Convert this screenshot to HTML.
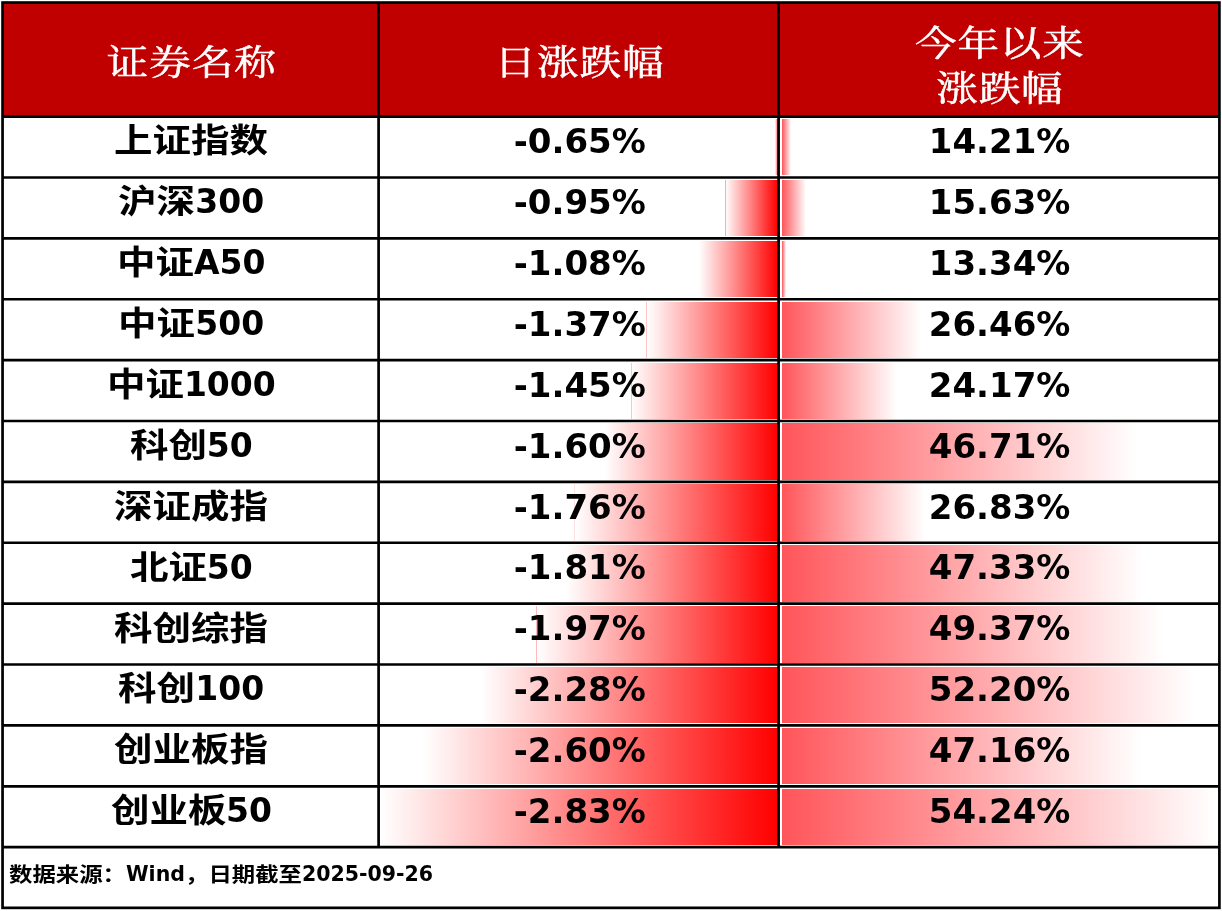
<!DOCTYPE html>
<html lang="zh-CN">
<head>
<meta charset="utf-8">
<title>指数涨跌幅</title>
<style>
html,body{margin:0;padding:0;background:#fff;}
body{width:1222px;height:911px;position:relative;overflow:hidden;font-family:"DejaVu Sans","Liberation Sans","Noto Sans CJK SC",sans-serif;}
.c{display:inline-block;height:40px;vertical-align:top;text-align:left;}
.c i{font-style:normal;display:inline-block;font-size:32.5px;transform:scaleX(1.185);transform-origin:0 50%;position:relative;top:0px;}
.hd{position:absolute;background:#c00000;}
.bar{position:absolute;}
.t{position:absolute;white-space:nowrap;text-align:center;color:#000;font-weight:bold;font-size:34px;line-height:40px;height:40px;transform:scaleX(1.0);transform-origin:50% 50%;}
.h{position:absolute;white-space:nowrap;text-align:center;color:#fff;font-family:"Liberation Serif","Noto Serif CJK SC",serif;font-weight:400;-webkit-text-stroke:0.55px #fff;font-size:35.2px;line-height:44px;height:44px;letter-spacing:0.8px;text-indent:0.8px;transform:scaleX(1.18);transform-origin:50% 50%;}
.f .c{height:30px;}
.f .c i{font-size:20px;transform:scaleX(1.17);top:0.6px;}
.f{position:absolute;white-space:nowrap;color:#000;font-weight:bold;font-size:20.5px;line-height:30px;height:30px;left:9px;transform:scaleX(1.0);transform-origin:0 50%;}
svg{position:absolute;left:0;top:0;}
</style>
</head>
<body>
<div class="hd" style="left:2px;top:2px;width:1218px;height:114.60px"></div>
<div class="bar" style="left:774.60px;top:119.00px;width:3.10px;height:56.48px;background:linear-gradient(to left,#ff7070,#ff7070 0.6px,#ffffff)"></div>
<div class="bar" style="left:782px;top:119.00px;width:9.23px;height:56.48px;background:linear-gradient(to right,#ff555a,#ffffff)"></div>
<div class="bar" style="left:725.00px;top:179.88px;width:52.70px;height:56.48px;background:linear-gradient(to left,#ff0000,#ff0000 0.6px,#ffffff)"></div>
<div class="bar" style="left:724.50px;top:179.88px;width:1px;height:56.48px;background:rgba(255,60,60,0.42)"></div>
<div class="bar" style="left:782px;top:179.88px;width:24.30px;height:56.48px;background:linear-gradient(to right,#ff555a,#ffffff)"></div>
<div class="bar" style="left:698.99px;top:240.76px;width:78.71px;height:56.48px;background:linear-gradient(to left,#ff0000,#ff0000 0.6px,#ffffff)"></div>
<div class="bar" style="left:782px;top:240.76px;width:4.20px;height:56.48px;background:linear-gradient(to right,#ff555a,#ffffff)"></div>
<div class="bar" style="left:646.80px;top:301.64px;width:130.90px;height:56.48px;background:linear-gradient(to left,#ff0000,#ff0000 0.6px,#ffffff)"></div>
<div class="bar" style="left:646.30px;top:301.64px;width:1px;height:56.48px;background:rgba(255,60,60,0.3)"></div>
<div class="bar" style="left:782px;top:301.64px;width:139.22px;height:56.48px;background:linear-gradient(to right,#ff555a,#ffffff)"></div>
<div class="bar" style="left:631.40px;top:362.52px;width:146.30px;height:56.48px;background:linear-gradient(to left,#ff0000,#ff0000 0.6px,#ffffff)"></div>
<div class="bar" style="left:630.90px;top:362.52px;width:1px;height:56.48px;background:rgba(255,60,60,0.3)"></div>
<div class="bar" style="left:782px;top:362.52px;width:114.92px;height:56.48px;background:linear-gradient(to right,#ff555a,#ffffff)"></div>
<div class="bar" style="left:604.53px;top:423.40px;width:173.17px;height:56.48px;background:linear-gradient(to left,#ff0000,#ff0000 0.6px,#ffffff)"></div>
<div class="bar" style="left:782px;top:423.40px;width:354.10px;height:56.48px;background:linear-gradient(to right,#ff555a,#ffffff)"></div>
<div class="bar" style="left:574.80px;top:484.28px;width:202.90px;height:56.48px;background:linear-gradient(to left,#ff0000,#ff0000 0.6px,#ffffff)"></div>
<div class="bar" style="left:574.30px;top:484.28px;width:1px;height:56.48px;background:rgba(255,60,60,0.15)"></div>
<div class="bar" style="left:782px;top:484.28px;width:143.15px;height:56.48px;background:linear-gradient(to right,#ff555a,#ffffff)"></div>
<div class="bar" style="left:566.38px;top:545.16px;width:211.32px;height:56.48px;background:linear-gradient(to left,#ff0000,#ff0000 0.6px,#ffffff)"></div>
<div class="bar" style="left:782px;top:545.16px;width:360.68px;height:56.48px;background:linear-gradient(to right,#ff555a,#ffffff)"></div>
<div class="bar" style="left:536.50px;top:606.04px;width:241.20px;height:56.48px;background:linear-gradient(to left,#ff0000,#ff0000 0.6px,#ffffff)"></div>
<div class="bar" style="left:536.00px;top:606.04px;width:1px;height:56.48px;background:rgba(255,60,60,0.35)"></div>
<div class="bar" style="left:782px;top:606.04px;width:382.32px;height:56.48px;background:linear-gradient(to right,#ff555a,#ffffff)"></div>
<div class="bar" style="left:481.01px;top:666.92px;width:296.69px;height:56.48px;background:linear-gradient(to left,#ff0000,#ff0000 0.6px,#ffffff)"></div>
<div class="bar" style="left:782px;top:666.92px;width:412.35px;height:56.48px;background:linear-gradient(to right,#ff555a,#ffffff)"></div>
<div class="bar" style="left:422.88px;top:727.80px;width:354.82px;height:56.48px;background:linear-gradient(to left,#ff0000,#ff0000 0.6px,#ffffff)"></div>
<div class="bar" style="left:782px;top:727.80px;width:358.87px;height:56.48px;background:linear-gradient(to right,#ff555a,#ffffff)"></div>
<div class="bar" style="left:381.10px;top:788.68px;width:396.60px;height:56.48px;background:linear-gradient(to left,#ff0000,#ff0000 0.6px,#ffffff)"></div>
<div class="bar" style="left:782px;top:788.68px;width:434.00px;height:56.48px;background:linear-gradient(to right,#ff555a,#ffffff)"></div>
<svg width="1222" height="911" viewBox="0 0 1222 911" fill="none" stroke="#000" stroke-width="2.7"><rect x="2.55" y="2.55" width="1216.85" height="905.30"/><line x1="2.55" y1="116.60" x2="1219.4" y2="116.60"/><line x1="2.55" y1="177.48" x2="1219.4" y2="177.48"/><line x1="2.55" y1="238.36" x2="1219.4" y2="238.36"/><line x1="2.55" y1="299.24" x2="1219.4" y2="299.24"/><line x1="2.55" y1="360.12" x2="1219.4" y2="360.12"/><line x1="2.55" y1="421.00" x2="1219.4" y2="421.00"/><line x1="2.55" y1="481.88" x2="1219.4" y2="481.88"/><line x1="2.55" y1="542.76" x2="1219.4" y2="542.76"/><line x1="2.55" y1="603.64" x2="1219.4" y2="603.64"/><line x1="2.55" y1="664.52" x2="1219.4" y2="664.52"/><line x1="2.55" y1="725.40" x2="1219.4" y2="725.40"/><line x1="2.55" y1="786.28" x2="1219.4" y2="786.28"/><line x1="2.55" y1="847.16" x2="1219.4" y2="847.16"/><line x1="378.6" y1="2.55" x2="378.6" y2="847.16"/><line x1="778.6" y1="2.55" x2="778.6" y2="847.16"/></svg>
<div class="h" style="left:4px;width:374.6px;top:42.3px">证券名称</div>
<div class="h" style="left:378.6px;width:400.0px;top:42.3px">日涨跌幅</div>
<div class="h" style="left:778.6px;width:440.8px;top:23.0px">今年以来</div>
<div class="h" style="left:778.6px;width:440.8px;top:68.0px">涨跌幅</div>
<div class="t" style="left:4px;width:374.6px;top:121.49px;font-size:33px"><span class="c" style="width:154.05px"><i>上证指数</i></span></div><div class="t" style="left:379.8px;width:400.0px;top:121.24px">-0.65%</div><div class="t" style="left:779.2px;width:440.8px;top:121.24px">14.21%</div>
<div class="t" style="left:4px;width:374.6px;top:182.37px;font-size:33px"><span class="c" style="width:77.03px"><i>沪深</i></span>300</div><div class="t" style="left:379.8px;width:400.0px;top:182.12px">-0.95%</div><div class="t" style="left:779.2px;width:440.8px;top:182.12px">15.63%</div>
<div class="t" style="left:4px;width:374.6px;top:243.25px;font-size:33px"><span class="c" style="width:77.03px"><i>中证</i></span>A50</div><div class="t" style="left:379.8px;width:400.0px;top:243.00px">-1.08%</div><div class="t" style="left:779.2px;width:440.8px;top:243.00px">13.34%</div>
<div class="t" style="left:4px;width:374.6px;top:304.13px;font-size:33px"><span class="c" style="width:77.03px"><i>中证</i></span>500</div><div class="t" style="left:379.8px;width:400.0px;top:303.88px">-1.37%</div><div class="t" style="left:779.2px;width:440.8px;top:303.88px">26.46%</div>
<div class="t" style="left:4px;width:374.6px;top:365.01px;font-size:33px"><span class="c" style="width:77.03px"><i>中证</i></span>1000</div><div class="t" style="left:379.8px;width:400.0px;top:364.76px">-1.45%</div><div class="t" style="left:779.2px;width:440.8px;top:364.76px">24.17%</div>
<div class="t" style="left:4px;width:374.6px;top:425.89px;font-size:33px"><span class="c" style="width:77.03px"><i>科创</i></span>50</div><div class="t" style="left:379.8px;width:400.0px;top:425.64px">-1.60%</div><div class="t" style="left:779.2px;width:440.8px;top:425.64px">46.71%</div>
<div class="t" style="left:4px;width:374.6px;top:486.77px;font-size:33px"><span class="c" style="width:154.05px"><i>深证成指</i></span></div><div class="t" style="left:379.8px;width:400.0px;top:486.52px">-1.76%</div><div class="t" style="left:779.2px;width:440.8px;top:486.52px">26.83%</div>
<div class="t" style="left:4px;width:374.6px;top:547.65px;font-size:33px"><span class="c" style="width:77.03px"><i>北证</i></span>50</div><div class="t" style="left:379.8px;width:400.0px;top:547.40px">-1.81%</div><div class="t" style="left:779.2px;width:440.8px;top:547.40px">47.33%</div>
<div class="t" style="left:4px;width:374.6px;top:608.53px;font-size:33px"><span class="c" style="width:154.05px"><i>科创综指</i></span></div><div class="t" style="left:379.8px;width:400.0px;top:608.28px">-1.97%</div><div class="t" style="left:779.2px;width:440.8px;top:608.28px">49.37%</div>
<div class="t" style="left:4px;width:374.6px;top:669.41px;font-size:33px"><span class="c" style="width:77.03px"><i>科创</i></span>100</div><div class="t" style="left:379.8px;width:400.0px;top:669.16px">-2.28%</div><div class="t" style="left:779.2px;width:440.8px;top:669.16px">52.20%</div>
<div class="t" style="left:4px;width:374.6px;top:730.29px;font-size:33px"><span class="c" style="width:154.05px"><i>创业板指</i></span></div><div class="t" style="left:379.8px;width:400.0px;top:730.04px">-2.60%</div><div class="t" style="left:779.2px;width:440.8px;top:730.04px">47.16%</div>
<div class="t" style="left:4px;width:374.6px;top:791.17px;font-size:33px"><span class="c" style="width:115.54px"><i>创业板</i></span>50</div><div class="t" style="left:379.8px;width:400.0px;top:790.92px">-2.83%</div><div class="t" style="left:779.2px;width:440.8px;top:790.92px">54.24%</div>
<div class="f" style="top:859.2px"><span class="c" style="width:117.00px"><i>数据来源：</i></span>Wind<span class="c" style="width:117.00px"><i>，日期截至</i></span>2025-09-26</div>
</body>
</html>
